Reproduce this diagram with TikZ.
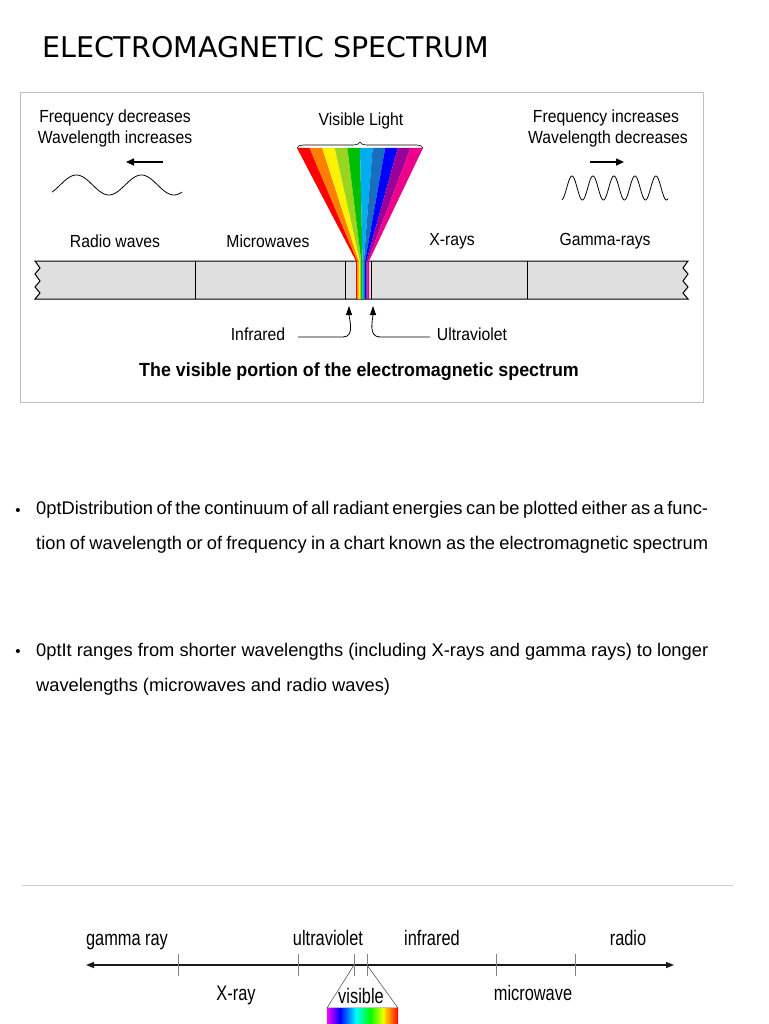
\documentclass[tikz,border=0pt]{standalone}
\usepackage{fontspec}
\setmainfont{Liberation Sans}
\newfontfamily\titlefont{DejaVu Sans}
\usetikzlibrary{arrows.meta,decorations.pathreplacing}
\begin{document}
\begin{tikzpicture}[x=1pt,y=-1pt,
  lab/.style={font=\fontsize{17.5}{17.5}\selectfont,inner sep=0pt,xscale=0.9},
  blab/.style={font=\fontsize{21}{21}\selectfont,inner sep=0pt,xscale=0.78,anchor=base},
  body/.style={font=\fontsize{18.3}{35}\selectfont\hyphenpenalty=10000,text width=672pt,align=justify,anchor=north west,inner sep=0pt},
  bar/.style={fill=gray!25,draw=black,line width=1pt}]
\useasboundingbox[fill=white] (0,0) rectangle (768,1024);
\node[anchor=west,inner sep=0pt,font=\titlefont\fontsize{28.5}{28.5}\selectfont] (title) at (42,47) {ELECTROMAGNETIC SPECTRUM};
% top figure frame
\draw[gray!50,line width=1pt] (20,93) rectangle (703,402);
\node[lab] (fd) at (115,118) {Frequency decreases};
\node[lab] (wi) at (115,139) {Wavelength increases};
\node[lab] (fi) at (606,118) {Frequency increases};
\node[lab] (wd) at (608,139) {Wavelength decreases};
\coordinate (la1) at (163,162); \coordinate (la2) at (126,162);
\draw[-{Triangle[length=8pt,width=7pt]},line width=1.5pt] (la1) -- (la2);
\coordinate (ra1) at (590,162); \coordinate (ra2) at (624,162);
\draw[-{Triangle[length=8pt,width=7pt]},line width=1.5pt] (ra1) -- (ra2);
\draw[line width=0.8pt,domain=0:130,samples=100,smooth] plot ({52+\x},{185-10*sin(\x/65*360-45)});
\draw[line width=0.8pt,domain=0:106,samples=150,smooth] plot ({562+\x},{188-12*sin(\x/21*360-80)});
% bar
\draw[bar] (35,261) -- (688,261) -- (683,268) -- (688,274) -- (683,281) -- (688,287) -- (683,293) -- (688,299) -- (35,299) -- (40,293) -- (35,287) -- (40,281) -- (35,274) -- (40,268) -- cycle;
\foreach \xx in {195,345,371,527} \draw[line width=1pt] (\xx,261) -- (\xx,299);
% fan
\def\cols{{"red","orange","yellow","yellow!60!green","green!75!black","cyan","cyan!50!blue","blue","violet!80!magenta","magenta"}}
\foreach \i in {0,...,9}{
  \pgfmathsetmacro{\ta}{297+12.6*\i}\pgfmathsetmacro{\tb}{297+12.6*(\i+1)}
  \pgfmathsetmacro{\ba}{356+1.3*\i}\pgfmathsetmacro{\bb}{356+1.3*(\i+1)}
  \pgfmathsetmacro{\cc}{\cols[\i]}
  \fill[color=\cc] (\ta,148) -- (\tb,148) -- (\bb,261) -- (\bb,299) -- (\ba,299) -- (\ba,261) -- cycle;
}
\draw[decorate,decoration={brace,amplitude=6pt},line width=0.6pt] (297,148) -- (423,148);
\node[lab] (vl) at (361,121) {Visible Light};
\node[lab] (rw) at (115,241) {Radio waves};
\node[lab] (mw) at (268,241) {Microwaves};
\node[lab] (xr) at (452,241) {X-rays};
\node[lab] (gr) at (605,241) {Gamma-rays};
\node[lab] (ir) at (258,334) {Infrared};
\node[lab] (uv) at (472,334) {Ultraviolet};
\coordinate (irt) at (349,306); \coordinate (uvt) at (373,306);
\draw[line width=0.8pt,-{Triangle[length=9pt,width=6pt]}] (298,337) -- (343,337) to[out=0,in=-90] (irt);
\draw[line width=0.8pt,-{Triangle[length=9pt,width=6pt]}] (430,337) -- (380,337) to[out=180,in=-90] (uvt);
\node[inner sep=0pt,font=\bfseries\fontsize{19}{19}\selectfont,xscale=0.94] (cap) at (359,372) {The visible portion of the electromagnetic spectrum};
% bullets
\node[anchor=center,inner sep=0pt,font=\fontsize{15}{15}\selectfont] (b1) at (18,512) {\textbullet};
\node[body] (t1) at (36,501) {Distribution of the continuum of all radiant energies can be plotted either as a function of wavelength or of frequency in a chart known as the electromagnetic spectrum};
\node[anchor=center,inner sep=0pt,font=\fontsize{15}{15}\selectfont] (b2) at (18,653) {\textbullet};
\node[body] (t2) at (36,643) {It ranges from shorter wavelengths (including X-rays and gamma rays) to longer wavelengths (microwaves and radio waves)};
% bottom figure
\draw[gray!40,line width=1pt] (22,885) -- (733,885);
\coordinate (axl) at (86,965); \coordinate (axr) at (674,965);
\draw[line width=1.3pt,gray!20!black,{Triangle[length=8pt,width=6pt]}-{Triangle[length=8pt,width=6pt]}] (axl) -- (axr);
\foreach \xx in {178,298,354,367,496,575} \draw[gray,line width=0.6pt] (\xx,954) -- (\xx,976);
\node[blab] (g) at (127,945) {gamma ray};
\node[blab] (u) at (328,945) {ultraviolet};
\node[blab] (i) at (432,945) {infrared};
\node[blab] (r) at (628,945) {radio};
\node[blab] (x) at (236,1000) {X-ray};
\node[blab] (v) at (361,1003) {visible};
\node[blab] (m) at (533,1000) {microwave};
\draw[gray!70!black,line width=0.6pt] (354,965) -- (327,1008) -- (398,1008) -- (367,965);
\shade[left color=magenta,right color=blue] (327,1008) rectangle (340,1024);
\shade[left color=blue,right color=cyan] (340,1008) rectangle (356,1024);
\shade[left color=cyan,right color=green] (356,1008) rectangle (370,1024);
\shade[left color=green,right color=yellow] (370,1008) rectangle (384,1024);
\shade[left color=yellow!80!orange,right color=red] (384,1008) rectangle (398,1024);
\end{tikzpicture}
\end{document}
